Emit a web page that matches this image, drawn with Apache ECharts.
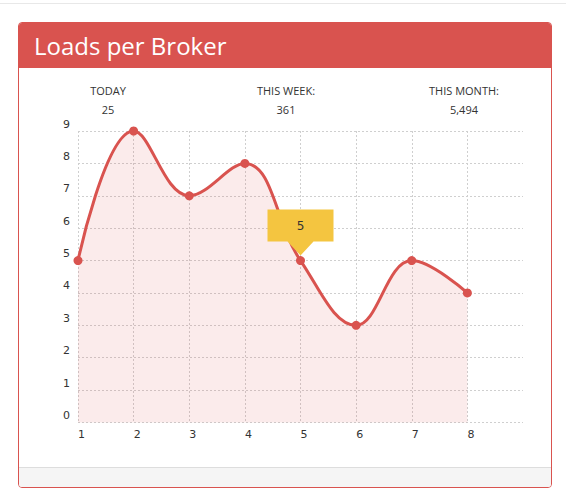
<!DOCTYPE html>
<html>
<head>
<meta charset="utf-8">
<script src="https://cdn.jsdelivr.net/npm/echarts@6/dist/echarts.min.js"></script>
<style>
html,body{margin:0;padding:0;width:566px;height:497px;background:#fff;overflow:hidden;font-family:"Open Sans","DejaVu Sans",sans-serif;}
#topline{position:absolute;left:0;top:3px;width:566px;height:1px;background:#e8e8e8;}
#panel{position:absolute;left:18px;top:22px;width:532px;height:464px;border:1px solid #d9534f;border-radius:4px;overflow:hidden;background:#fff;}
#head{position:absolute;left:0;top:0;width:100%;height:45px;background:#d9534f;color:#fff;font-size:24px;line-height:45px;padding-left:15px;box-sizing:border-box;}
#foot{position:absolute;left:0;bottom:0;width:100%;height:19px;background:#f5f5f5;border-top:1px solid #ddd;}
.stat{position:absolute;top:58px;width:178px;text-align:center;color:#333;font-size:11px;line-height:19px;}
#chart{position:absolute;left:0;top:0;width:566px;height:497px;}
</style>
</head>
<body>
<div id="topline"></div>
<div id="panel">
  <div id="head">Loads per Broker</div>
  <div class="stat" style="left:0px"><div>TODAY</div><div>25</div></div>
  <div class="stat" style="left:178px"><div>THIS WEEK:</div><div>361</div></div>
  <div class="stat" style="left:356px"><div>THIS MONTH:</div><div>5,494</div></div>
  <div id="foot"></div>
</div>
<div id="chart"></div>
<script>
var brokers = [1, 2, 3, 4, 5, 6, 7, 8];
var loads = [5, 9, 7, 8, 5, 3, 5, 4];
var yTicks = [0, 1, 2, 3, 4, 5, 6, 7, 8, 9];
var highlightIndex = 4;

var seriesData = brokers.map(function (b, i) { return [b, loads[i]]; });
var chart = echarts.init(document.getElementById('chart'), null, {renderer: 'svg'});
var gridLine = {show: true, lineStyle: {color: '#cfcfcf', type: [2, 2], width: 1}};
chart.setOption({
  animation: false,
  grid: {left: 78, top: 131, right: 43, bottom: 74.5},
  xAxis: {
    type: 'value', min: 1, max: 9, interval: 1,
    axisLine: {show: false}, axisTick: {show: false},
    splitLine: Object.assign({showMinLine: true, showMaxLine: false}, gridLine),
    axisLabel: {showMaxLabel: false, color: '#333', fontSize: 11, align: 'left', margin: 6, fontFamily: 'DejaVu Sans'}
  },
  yAxis: {
    type: 'value', min: yTicks[0], max: yTicks[yTicks.length - 1], interval: 1,
    axisLine: {show: false}, axisTick: {show: false},
    splitLine: gridLine,
    axisLabel: {color: '#333', fontSize: 11, margin: 8, verticalAlign: 'bottom', lineHeight: 12, padding: [0, 0, 1, 0], fontFamily: 'DejaVu Sans'}
  },
  series: [{
    type: 'line',
    data: seriesData,
    smooth: 0.4,
    symbol: 'circle',
    symbolSize: 9,
    lineStyle: {color: '#d9534f', width: 3},
    itemStyle: {color: '#d9534f'},
    areaStyle: {color: 'rgba(217,83,79,0.16)'},
    markPoint: {
      symbol: 'path://M0,0 H66 V32 H46 L33,46 L20,32 H0 Z',
      symbolSize: [66, 46],
      symbolOffset: [0, -28],
      itemStyle: {color: '#f4c540'},
      label: {show: true, color: '#333', fontSize: 12, offset: [0, -7], fontFamily: 'DejaVu Sans', formatter: function (p) { return p.value; }},
      data: [{coord: seriesData[highlightIndex], value: loads[highlightIndex]}]
    }
  }]
});
</script>
</body>
</html>
